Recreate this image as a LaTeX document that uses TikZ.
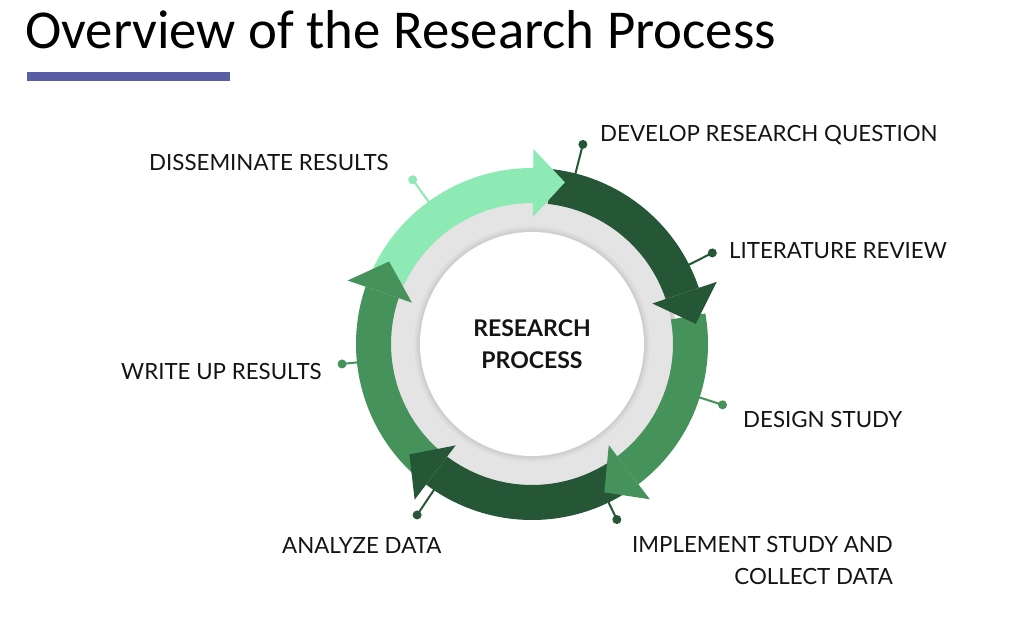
\documentclass[tikz,border=0pt]{standalone}
\usepackage{fontspec}
\setmainfont{Lato}
\newfontfamily\titlefont{Carlito}
\definecolor{cdark}{RGB}{37,86,54}
\definecolor{cmed}{RGB}{69,146,91}
\definecolor{clight}{RGB}{141,234,181}
\definecolor{cgray}{RGB}{228,228,228}
\definecolor{cbar}{RGB}{90,95,165}
\definecolor{ctext}{RGB}{20,20,20}
\tikzset{
  lbl/.style={anchor=base west, inner sep=0pt, text=ctext, font=\fontsize{22.3}{32}\selectfont},
  pindot/.style={circle, inner sep=0pt, minimum size=9pt, fill=#1},
  pinline/.style={draw=#1, line width=2pt},
}
\newcommand{\ringseg}[3]{% color, start, end
  \fill[#1] (#2:176) arc[start angle=#2, end angle=#3, radius=176] -- (#3:141) arc[start angle=#3, end angle=#2, radius=141] -- cycle;}
\newcommand{\ringhead}[3]{% color, base, tip
  \fill[#1] (#2:127) -- (#2:195) -- (#3:165) -- cycle;}
\begin{document}
\begin{tikzpicture}[x=1pt,y=1pt]
\useasboundingbox (0,0) rectangle (1024,632);
\fill[white] (0,0) rectangle (1024,632);
% title
\node[anchor=base west, inner sep=0pt, font=\titlefont\fontsize{54.8}{60}\selectfont] (title) at (25,583) {Overview of the Research Process};
\fill[cbar] (27,551) rectangle (230,560);
% ring
\begin{scope}[shift={(532,288)}]
  \coordinate (C) at (0,0);
  \fill[cgray] (C) circle[radius=145];
  \foreach \r/\o in {150/0.03,146/0.03,143/0.04}{\fill[black, opacity=\o] (C) circle[radius=\r];}
  \fill[cgray] (C) circle[radius=141];
  \foreach \r/\o in {118/0.025,116/0.03,114/0.04}{\fill[black, opacity=\o] (C) circle[radius=\r];}
  \fill[white] (C) circle[radius=112];
  % pins
  \foreach \nm/\ang/\rr/\cc in {dev/75.7/206/cdark, lit/26.8/202/cdark, des/-17.7/200/cmed, imp/-64.2/195/cdark, ana/-123.9/206/cdark, wri/186/191/cmed, dis/126/203/clight}{
    \coordinate (\nm-s) at (\ang:160);
    \node[pindot=\cc] (\nm-d) at (\ang:\rr) {};
    \draw[pinline=\cc] (\nm-s) -- (\nm-d.center);
  }
  \ringseg{clight}{155}{89.6}
  \ringseg{cdark}{83.5}{18.6}
  \ringseg{cmed}{10}{-52.8}
  \ringseg{cdark}{-58}{-127}
  \ringseg{cmed}{-132}{-199}
  \ringhead{clight}{89.6}{78.5}
  \ringhead{cdark}{18.6}{7}
  \ringhead{cmed}{-52.8}{-64}
  \ringhead{cdark}{-127}{-138}
  \ringhead{cmed}{-199}{-210}
  \node[align=center, inner sep=0pt, text=ctext, font=\bfseries\fontsize{23}{32}\selectfont] (center) at (0,0) {RESEARCH\\PROCESS};
\end{scope}
% labels
\node[lbl] (ldev) at (600,490) {DEVELOP RESEARCH QUESTION};
\node[lbl] (llit) at (729,373) {LITERATURE REVIEW};
\node[lbl] (ldes) at (743,205) {DESIGN STUDY};
\node[lbl, anchor=base east] (limp1) at (893,80) {IMPLEMENT STUDY AND};
\node[lbl, anchor=base east] (limp2) at (893,48) {COLLECT DATA};
\node[lbl] (lana) at (282,79) {ANALYZE DATA};
\node[lbl] (lwri) at (121,252) {WRITE UP RESULTS};
\node[lbl] (ldis) at (149,461) {DISSEMINATE RESULTS};
\end{tikzpicture}
\end{document}
